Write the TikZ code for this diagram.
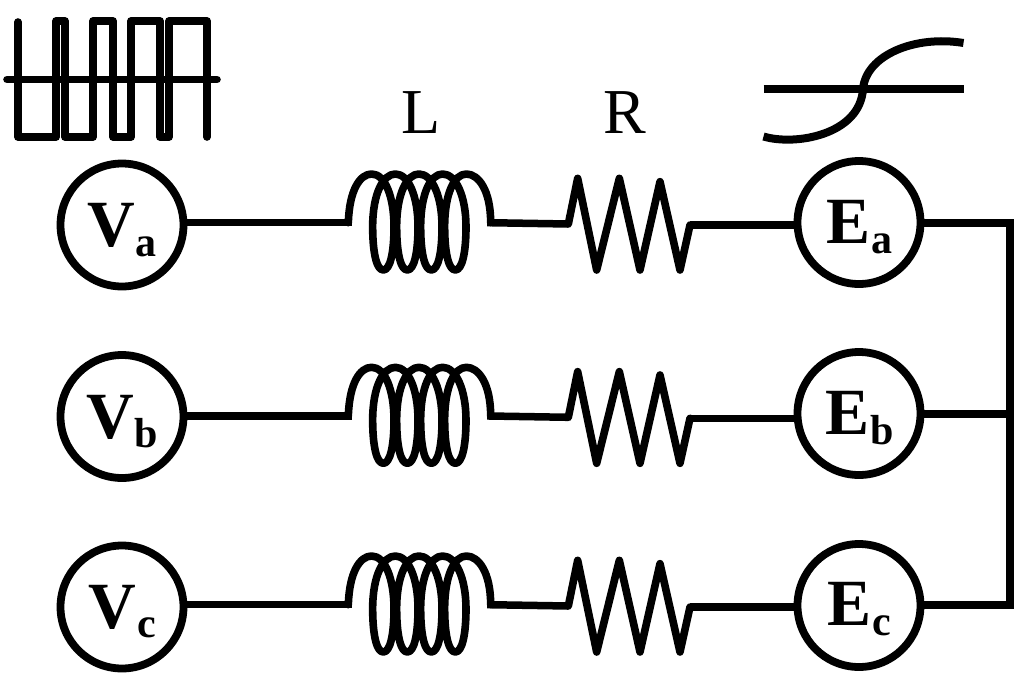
\documentclass[tikz,border=0pt]{standalone}
\usepackage{fontspec}
\setmainfont{Liberation Serif}
\newcommand{\bigfs}{\fontsize{66}{70}\bfseries\selectfont}
\newcommand{\subfs}{\fontsize{42}{46}\bfseries\selectfont}
\newcommand{\compfs}{\fontsize{64}{68}\selectfont}
\tikzset{
  wire/.style={line width=7.5pt,line join=round,line cap=butt,black},
  elem/.style={line width=7.6pt,line join=round,line cap=round,black},
  source/.style={circle,draw=black,line width=7.8pt,minimum size=123pt,inner sep=0pt,fill=none},
  sublabel/.style={anchor=base west,inner sep=0pt,outer sep=0pt,text=black},
  complabel/.style={anchor=base,inner sep=0pt,outer sep=0pt,font=\compfs,text=black}
}
\newcommand{\rowparts}[2]{%
  \begin{scope}[shift={(330,{150+#2})},x=0.33333pt,y=-0.33333pt]
    \coordinate (Lin#1) at (55,218);
    \coordinate (Lout#1) at (482,218);
    \coordinate (Rin#1) at (715,222);
    \coordinate (Rout#1) at (1080,225);
    \draw[elem] (Lin#1) .. controls (58,120) and (90,72) .. (125,72)
      foreach \k in {0,1,2,3} {
        .. controls ({165+71*\k},72) and ({192+72*\k},140) .. ({192+72*\k},230)
        .. controls ({192+72*\k},310) and ({180+72*\k},360) .. ({160+72*\k},360)
        .. controls ({140+72*\k},360) and ({128+72*\k},310) .. ({128+72*\k},230)
        .. controls ({128+72*\k},130) and ({160+71*\k},72) .. ({196+71*\k},72)
      }
      .. controls (445,72) and (482,120) .. (Lout#1);
    \draw[elem] (Rin#1) -- (743,85) -- (800,360) -- (868,85) -- (930,360) -- (990,95) -- (1050,360) -- (Rout#1);
  \end{scope}}
\begin{document}
\begin{tikzpicture}[x=1pt,y=-1pt]
\useasboundingbox (0,0) rectangle (1024,680);
% sources
\node[source] (Va) at (122,225) {};
\node[source] (Vb) at (122,416.5) {};
\node[source] (Vc) at (122,607) {};
\node[source] (Ea) at (859,222.5) {};
\node[source] (Eb) at (859,413.5) {};
\node[source] (Ec) at (859,605.5) {};
% labels
\node[sublabel] (tVa) at (87,246) {\bigfs V\kern1pt\raisebox{-10pt}{\subfs a}};
\node[sublabel] (tVb) at (86,438) {\bigfs V\kern1pt\raisebox{-9pt}{\subfs b}};
\node[sublabel] (tVc) at (88.5,628) {\bigfs V\kern1pt\raisebox{-9pt}{\subfs c}};
\node[sublabel] (tEa) at (826,243) {\bigfs E\kern1pt\raisebox{-10pt}{\subfs a}};
\node[sublabel] (tEb) at (825.5,434) {\bigfs E\kern1pt\raisebox{-10pt}{\subfs b}};
\node[sublabel] (tEc) at (827,625) {\bigfs E\kern1pt\raisebox{-10pt}{\subfs c}};
\node[complabel] (tL) at (421,133) {L};
\node[complabel] (tR) at (625,133) {R};
% coils and resistors
\rowparts{1}{0}
\rowparts{2}{193.3}
\rowparts{3}{382}
% row connectors
\foreach \r/\v/\e in {1/Va/Ea,2/Vb/Eb,3/Vc/Ec}{
  \draw[wire] (\v.east |- Lin\r) -- ([xshift=3.5pt]Lin\r);
  \draw[wire] ([xshift=-3.5pt]Lout\r) -- (Rin\r);
  \draw[wire] (Rout\r) -- (\e.west |- Rout\r);
}
% star point
\coordinate (J1) at (1010,223);
\coordinate (J2) at (1010,414);
\coordinate (J3) at (1010,605);
\draw[wire,line width=8pt,line join=miter] (Ea.east |- J1) -- (J1) -- (J3) -- (Ec.east |- J3);
\draw[wire,line width=8pt] (Eb.east |- J2) -- (J2);
% PWM waveform
\draw[elem] (18,22) -- (18,137) -- (56,137) -- (56,21) -- (65,21) -- (65,137) -- (93,137) -- (93,21) -- (113,21) -- (113,137) -- (131,137) -- (131,21) -- (160,21) -- (160,137) -- (169,137) -- (169,21) -- (207,21) -- (207,137);
\draw[elem] (7,79.5) -- (217,79.5);
% back-EMF waveform
\draw[wire] (763.5,89) -- (963.5,89);
\draw[wire,line width=8pt] (763.5,136.5) .. controls (795,146) and (860,135) .. (863,89) .. controls (866,55) and (915,35) .. (963.5,43);
\end{tikzpicture}
\end{document}
